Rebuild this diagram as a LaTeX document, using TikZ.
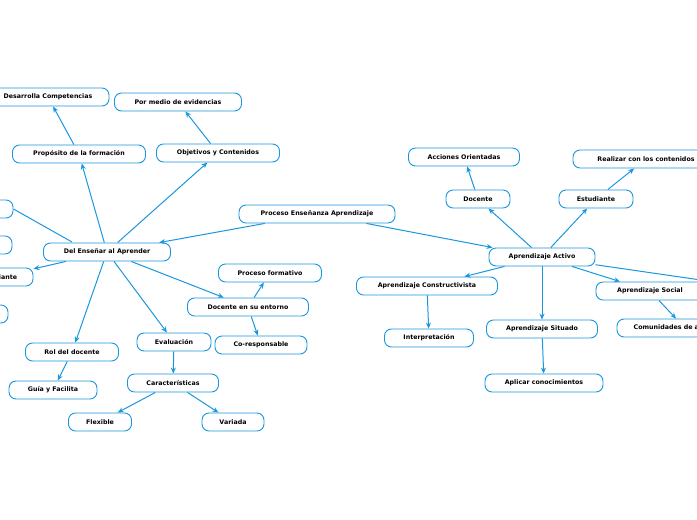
\documentclass[tikz,border=0pt]{standalone}
\usepackage{fontspec}
\setmainfont{DejaVu Sans}
\usetikzlibrary{arrows.meta}
\definecolor{mb}{HTML}{1A96DE}
\tikzset{
 nd/.style={draw=mb,line width=0.9pt,rounded corners=7pt,fill=white,minimum height=18pt,font=\bfseries\fontsize{6.3}{7}\selectfont,inner sep=2pt},
 ar/.style={draw=mb,line width=1pt,-{Stealth[length=6pt,width=5pt]}},
 ln/.style={draw=mb,line width=1pt}
}
\begin{document}
\begin{tikzpicture}[x=1pt,y=-1pt]
\useasboundingbox (0,0) rectangle (697,520);
\clip (0,0) rectangle (697,520);
\def\N#1#2#3#4#5{\node[nd,minimum width=#4pt] (#1) at (#2,#3) {#5};}
\N{pea}{317}{214}{156}{Proceso Enseñanza Aprendizaje}
\N{del}{107}{252}{127}{Del Enseñar al Aprender}
\N{pro}{79}{154}{133}{Propósito de la formación}
\N{des}{48}{97}{122}{Desarrolla Competencias}
\N{obj}{218}{153}{123}{Objetivos y Contenidos}
\N{pme}{178}{102}{127}{Por medio de evidencias}
\N{l1}{-30}{209}{86}{}
\N{l2}{-30}{245}{84}{}
\N{l3}{-2}{277}{70}{Estudiante}
\N{l4}{-35}{314}{86}{}
\N{rol}{72}{352}{93}{Rol del docente}
\N{gui}{53}{390}{88}{Guía y Facilita}
\N{eva}{174}{342}{74}{Evaluación}
\N{car}{173}{383}{91}{Características}
\N{fle}{100}{422}{63}{Flexible}
\N{var}{233}{422}{62}{Variada}
\N{pfo}{270}{273}{103}{Proceso formativo}
\N{den}{248}{307}{121}{Docente en su entorno}
\N{cor}{261}{345}{92}{Co-responsable}
\N{act}{542}{257}{106}{Aprendizaje Activo}
\N{doc}{478}{199}{64}{Docente}
\N{acc}{464}{157}{111}{Acciones Orientadas}
\N{est}{596}{199}{74}{Estudiante}
\N{rea}{646}{159}{146}{Realizar con los contenidos}
\N{con}{427}{286}{141}{Aprendizaje Constructivista}
\N{int}{429}{338}{89}{Interpretación}
\N{sit}{542}{329}{111}{Aprendizaje Situado}
\N{apl}{544}{383}{118}{Aplicar conocimientos}
\N{soc}{650}{291}{108}{Aprendizaje Social}
\N{com}{685}{328}{136}{Comunidades de aprendizaje}
\N{off}{770}{290}{110}{}
\coordinate (dtl) at (72,242);
\draw[ar] (pea) -- (del);
\draw[ar] (pea) -- (act);
\draw[ar] (del) -- (pro);
\draw[ar] (pro) -- (des);
\draw[ar] (del) -- (obj);
\draw[ar] (obj) -- (pme);
\draw[ln] (dtl) -- (l1.east);
\draw[ar] (del) -- (l3);
\draw[ar] (del) -- (rol);
\draw[ar] (rol) -- (gui);
\draw[ar] (del) -- (eva);
\draw[ar] (eva) -- (car);
\draw[ar] (car) -- (fle);
\draw[ar] (car) -- (var);
\draw[ar] (del) -- (den);
\draw[ar] (den) -- (pfo);
\draw[ar] (den) -- (cor);
\draw[ar] (act) -- (doc);
\draw[ar] (doc) -- (acc);
\draw[ar] (act) -- (est);
\draw[ar] (est) -- (rea);
\draw[ar] (act) -- (con);
\draw[ar] (con) -- (int);
\draw[ar] (act) -- (sit);
\draw[ar] (sit) -- (apl);
\draw[ar] (act) -- (soc);
\draw[ar] (soc) -- (com);
\draw[ar] (act) -- (off);
\end{tikzpicture}
\end{document}
